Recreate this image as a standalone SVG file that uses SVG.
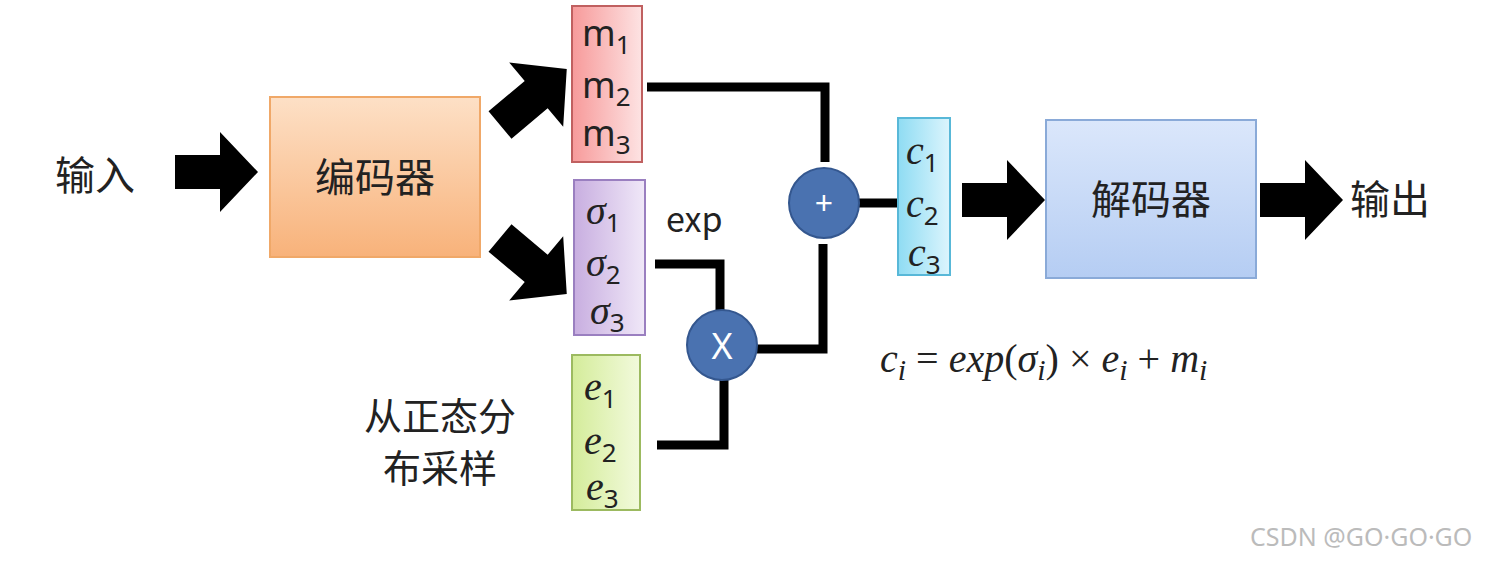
<svg xmlns="http://www.w3.org/2000/svg" width="1486" height="564" viewBox="0 0 1486 564">
<defs>
<linearGradient id="gm" x1="0" x2="1"><stop offset="0" stop-color="#f79a9a"/><stop offset="1" stop-color="#fde3e3"/></linearGradient>
<linearGradient id="gs" x1="0" x2="1"><stop offset="0" stop-color="#c8aee0"/><stop offset="1" stop-color="#f0e8f8"/></linearGradient>
<linearGradient id="ge" x1="0" x2="1"><stop offset="0" stop-color="#d4ec9a"/><stop offset="1" stop-color="#f2fadc"/></linearGradient>
<linearGradient id="gc" x1="0" x2="1"><stop offset="0" stop-color="#8fdcf3"/><stop offset="1" stop-color="#dcf5fd"/></linearGradient>
<linearGradient id="genc" x1="0" y1="0" x2="0" y2="1"><stop offset="0" stop-color="#fde0c6"/><stop offset="1" stop-color="#f8b27a"/></linearGradient>
<linearGradient id="gdec" x1="0" y1="0" x2="0" y2="1"><stop offset="0" stop-color="#dbe7fb"/><stop offset="1" stop-color="#b5cdf3"/></linearGradient>
<path id="arr" d="M0,-17 H45 V-40 L83,0 L45,40 V17 H0 Z" fill="#000"/>
</defs>
<style>
.t{font-family:"Noto Sans CJK SC","Noto Sans",sans-serif;fill:#222}
.v{font-family:"Liberation Serif",serif;font-style:italic;fill:#222;font-size:40px}
.m{font-family:"Noto Sans",sans-serif;fill:#222;font-size:36px}
.s{font-size:26px;font-style:normal;font-family:"Noto Sans",sans-serif}
.si{font-size:30px;font-style:italic}
.n{font-style:normal}
.ln{stroke:#000;stroke-width:9;fill:none}
.cir{fill:#4a72b0;stroke:#34578f;stroke-width:2}
</style>
<rect width="1486" height="564" fill="#fff"/>
<g id="connectors">
<use href="#arr" x="175" y="172"/>
<use href="#arr" transform="translate(500,125) rotate(-40) scale(1.05)"/>
<use href="#arr" transform="translate(500,238) rotate(40) scale(1.05)"/>
<use href="#arr" x="962" y="200"/>
<use href="#arr" x="1260" y="200"/>
<path class="ln" d="M647,87 H825 V162"/>
<path class="ln" d="M858,203 H898"/>
<path class="ln" d="M823,244 V349 H757"/>
<path class="ln" d="M655,264 H720 V312"/>
<path class="ln" d="M657,445 H724 V380"/>
</g>
<g id="input"><text class="t" x="55" y="190" font-size="40">输入</text></g>
<g id="encoder"><rect x="270" y="97" width="210" height="160" fill="url(#genc)" stroke="#f0a868" stroke-width="2"/><text class="t" x="375" y="192" font-size="40" text-anchor="middle">编码器</text></g>
<g id="m"><rect x="572" y="6" width="70" height="156" fill="url(#gm)" stroke="#c06060" stroke-width="2"/>
<text class="m" x="582" y="46">m<tspan class="s" dy="8">1</tspan></text>
<text class="m" x="582" y="98">m<tspan class="s" dy="8">2</tspan></text>
<text class="m" x="582" y="146">m<tspan class="s" dy="8">3</tspan></text></g>
<g id="sigma"><rect x="574" y="180" width="71" height="155" fill="url(#gs)" stroke="#9a7fc0" stroke-width="2"/>
<text class="v" x="586" y="224">σ<tspan class="s" dy="8">1</tspan></text>
<text class="v" x="586" y="276">σ<tspan class="s" dy="8">2</tspan></text>
<text class="v" x="590" y="324">σ<tspan class="s" dy="8">3</tspan></text></g>
<g id="e"><rect x="572" y="355" width="68" height="155" fill="url(#ge)" stroke="#9cba60" stroke-width="2"/>
<text class="v" x="584" y="400">e<tspan class="s" dy="8">1</tspan></text>
<text class="v" x="584" y="454">e<tspan class="s" dy="8">2</tspan></text>
<text class="v" x="586" y="500">e<tspan class="s" dy="8">3</tspan></text></g>
<g id="exp"><text class="t" x="666" y="232" font-size="34" font-family="Noto Sans">exp</text></g>
<g id="sample"><text class="t" x="440" y="430" font-size="38" text-anchor="middle">从正态分</text><text class="t" x="440" y="482" font-size="38" text-anchor="middle">布采样</text></g>
<g id="mul"><circle class="cir" cx="722" cy="345" r="35"/><text x="722" y="359" font-family="Noto Sans" font-size="36" fill="#fff" text-anchor="middle">X</text></g>
<g id="add"><circle class="cir" cx="824" cy="203" r="35"/><text x="824" y="215" font-family="Noto Sans" font-size="32" fill="#fff" text-anchor="middle">+</text></g>
<g id="c"><rect x="898" y="118" width="52" height="157" fill="url(#gc)" stroke="#58b8d8" stroke-width="2"/>
<text class="v" x="906" y="164">c<tspan class="s" dy="8">1</tspan></text>
<text class="v" x="906" y="217">c<tspan class="s" dy="8">2</tspan></text>
<text class="v" x="908" y="266">c<tspan class="s" dy="8">3</tspan></text></g>
<g id="decoder"><rect x="1046" y="120" width="210" height="158" fill="url(#gdec)" stroke="#8aaad8" stroke-width="2"/><text class="t" x="1151" y="214" font-size="40" text-anchor="middle">解码器</text></g>
<g id="output"><text class="t" x="1350" y="214" font-size="40">输出</text></g>
<g id="formula"><text class="v" x="880" y="372" font-size="44">c<tspan class="si" dy="8">i</tspan><tspan class="n" dy="-8"> = </tspan>exp<tspan class="n">(</tspan>σ<tspan class="si" dy="8">i</tspan><tspan class="n" dy="-8">) × </tspan>e<tspan class="si" dy="8">i</tspan><tspan class="n" dy="-8"> + </tspan>m<tspan class="si" dy="8">i</tspan></text></g>
<g id="wm"><text x="1250" y="546" font-family="Noto Sans" font-size="25" fill="#bbb">CSDN @GO·GO·GO</text></g>
</svg>
